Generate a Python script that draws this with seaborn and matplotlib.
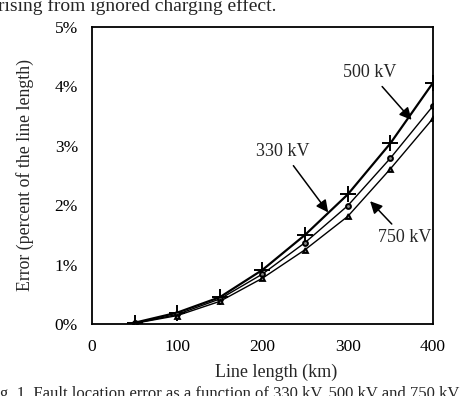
import matplotlib
matplotlib.use("Agg")
import matplotlib.pyplot as plt
import seaborn as sns
import pandas as pd
from matplotlib.ticker import FuncFormatter

# data
line_length = [50, 100, 150, 200, 250, 300, 350, 400]
err_330 = [0.02, 0.19, 0.45, 0.91, 1.50, 2.18, 3.04, 4.06]
err_500 = [0.01, 0.16, 0.42, 0.84, 1.37, 1.99, 2.79, 3.67]
err_750 = [0.01, 0.14, 0.38, 0.77, 1.25, 1.81, 2.61, 3.46]

sns.set_style("white")
plt.rcParams["font.family"] = ["Liberation Serif", "DejaVu Serif"]

fig = plt.figure(figsize=(4.74, 3.96), dpi=100)
ax = fig.add_axes([0.194, 0.182, 0.7195, 0.750])

series = [
    (err_330, "+", 12, 1.6),
    (err_500, "o", 3.5, 1.0),
    (err_750, "^", 3.5, 1.0),
]
for vals, mk, ms, lw in series:
    df = pd.DataFrame({"km": line_length, "err": vals})
    sns.lineplot(data=df, x="km", y="err", ax=ax, color="black", lw=lw,
                 marker=mk, markersize=ms, markeredgewidth=1.4,
                 markerfacecolor="#888888", markeredgecolor="black")

ax.set_xlim(0, 400)
ax.set_ylim(0, 5)
ax.set_xticks([0, 100, 200, 300, 400])
ax.set_yticks([0, 1, 2, 3, 4, 5])
ax.yaxis.set_major_formatter(FuncFormatter(lambda v, p: f"{v:.0f}%"))
ax.tick_params(direction="in", length=3, labelsize=12.5, colors="black")
ax.tick_params(axis="x", pad=11)
ax.tick_params(axis="y", pad=10)
for s in ax.spines.values():
    s.set_color("black")
    s.set_linewidth(1.3)

ax.set_xlabel("Line length (km)", fontsize=13)
ax.set_ylabel("Error (percent of the line length)", fontsize=12.8)
ax.xaxis.set_label_coords(0.54, -0.135)
ax.yaxis.set_label_coords(-0.17, 0.5)

arrow = dict(arrowstyle="-|>", color="black", lw=1.1, mutation_scale=18)
ax.annotate("330 kV", xy=(279, 1.84), xytext=(224, 2.90), fontsize=13,
            ha="center", va="center", arrowprops=arrow)
ax.annotate("500 kV", xy=(377, 3.40), xytext=(326, 4.23), fontsize=13,
            ha="center", va="center", arrowprops=arrow)
ax.annotate("750 kV", xy=(324, 2.10), xytext=(367, 1.45), fontsize=13,
            ha="center", va="center", arrowprops=arrow)

# page caption text, cropped by the figure edge as in the scan
fig.text(-0.005, 0.985, "rising from ignored charging effect.", fontsize=14,
         ha="left", va="center")
fig.text(-0.03, 0.004, "Fig. 1. Fault location error as a function of 330 kV, 500 kV and 750 kV",
         fontsize=12, ha="left", va="center")

fig.savefig("out.png", dpi=100)
